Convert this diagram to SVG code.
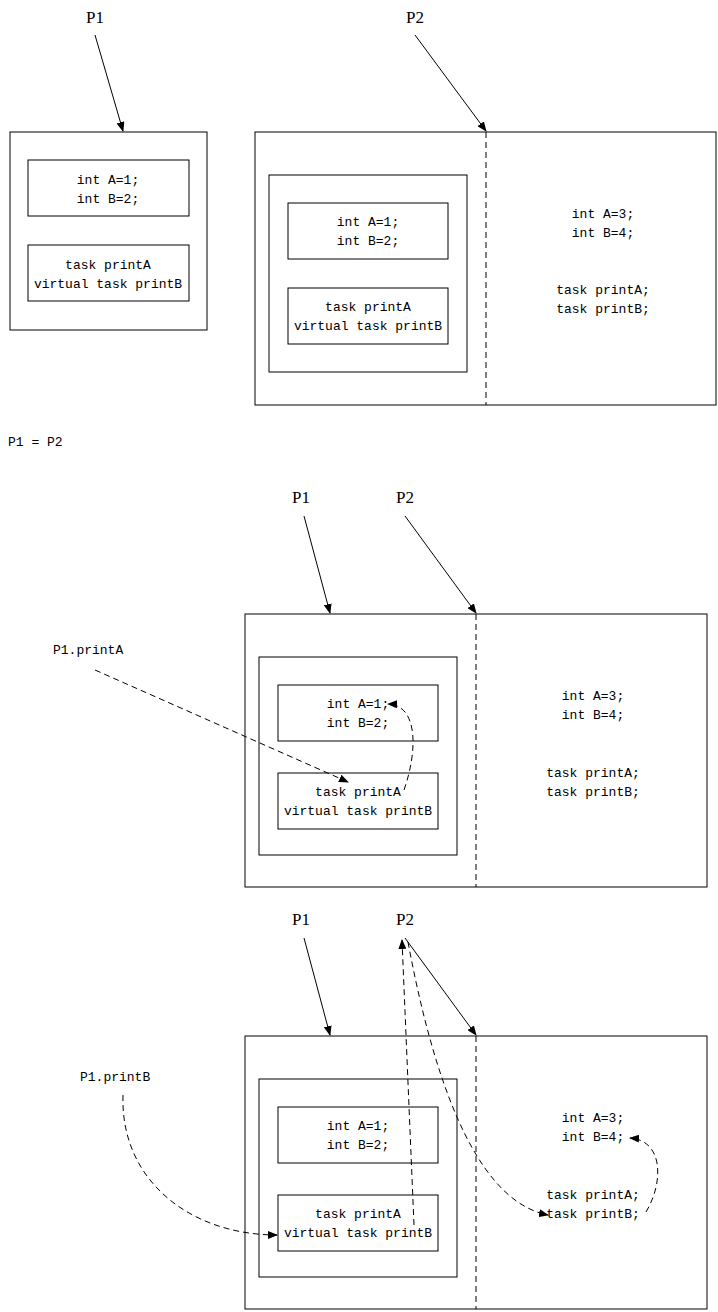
<svg xmlns="http://www.w3.org/2000/svg" width="718" height="1312" viewBox="0 0 718 1312">
<defs>
<marker id="ar" markerWidth="10" markerHeight="8" refX="9" refY="4" orient="auto" markerUnits="userSpaceOnUse"><path d="M0,0 L10,4 L0,8 z" fill="#000"/></marker>
<style>
.b{fill:#fff;stroke:#000;stroke-width:1}
.d{fill:none;stroke:#000;stroke-width:1;stroke-dasharray:6,4}
.l{fill:none;stroke:#000;stroke-width:1}
.t{font-family:"Liberation Mono",monospace;font-size:13px;fill:#000}
.c{text-anchor:middle}
.p{font-family:"Liberation Serif",serif;font-size:17px;fill:#000}
</style>
</defs>
<rect width="718" height="1312" fill="#fff"/>
<g id="p1a"><rect class="b" x="10" y="132" width="197" height="198"/>
<rect class="b" x="28" y="160" width="161" height="56"/><text class="t c" x="108" y="184">int A=1;</text><text class="t c" x="108" y="203">int B=2;</text>
<rect class="b" x="28" y="245" width="161" height="56"/><text class="t c" x="108" y="269">task printA</text><text class="t c" x="108" y="288">virtual task printB</text></g>
<g id="p2a"><rect class="b" x="255" y="132" width="461" height="273"/>
<rect class="b" x="269" y="175" width="198" height="197"/>
<rect class="b" x="288" y="203" width="160" height="56"/><text class="t c" x="368" y="226">int A=1;</text><text class="t c" x="368" y="245">int B=2;</text>
<rect class="b" x="288" y="288" width="160" height="56"/><text class="t c" x="368" y="311">task printA</text><text class="t c" x="368" y="330">virtual task printB</text>
<text class="t c" x="603" y="218">int A=3;</text><text class="t c" x="603" y="237">int B=4;</text><text class="t c" x="603" y="294">task printA;</text><text class="t c" x="603" y="313">task printB;</text></g>
<text class="p" x="95" y="23" text-anchor="middle">P1</text><text class="p" x="415" y="23" text-anchor="middle">P2</text>
<text class="t" x="8" y="446">P1 = P2</text>

<g id="p2b"><rect class="b" x="245" y="614" width="462" height="273"/>
<rect class="b" x="259" y="657" width="198" height="198"/>
<rect class="b" x="278" y="685" width="160" height="56"/><text class="t c" x="358" y="708">int A=1;</text><text class="t c" x="358" y="727">int B=2;</text>
<rect class="b" x="278" y="773" width="160" height="56"/><text class="t c" x="358" y="796">task printA</text><text class="t c" x="358" y="815">virtual task printB</text>
<text class="t c" x="593" y="700">int A=3;</text><text class="t c" x="593" y="719">int B=4;</text><text class="t c" x="593" y="777">task printA;</text><text class="t c" x="593" y="796">task printB;</text></g>
<text class="p" x="301" y="503" text-anchor="middle">P1</text><text class="p" x="405" y="503" text-anchor="middle">P2</text>
<text class="t" x="53" y="654">P1.printA</text>

<g id="p3b"><rect class="b" x="245" y="1036" width="462" height="273"/>
<rect class="b" x="259" y="1079" width="198" height="198"/>
<rect class="b" x="278" y="1107" width="160" height="56"/><text class="t c" x="358" y="1130">int A=1;</text><text class="t c" x="358" y="1149">int B=2;</text>
<rect class="b" x="278" y="1195" width="160" height="56"/><text class="t c" x="358" y="1218">task printA</text><text class="t c" x="358" y="1237">virtual task printB</text>
<text class="t c" x="593" y="1122">int A=3;</text><text class="t c" x="593" y="1141">int B=4;</text><text class="t c" x="593" y="1199">task printA;</text><text class="t c" x="593" y="1218">task printB;</text></g>
<text class="p" x="301" y="925" text-anchor="middle">P1</text><text class="p" x="405" y="925" text-anchor="middle">P2</text>
<text class="t" x="80" y="1081">P1.printB</text>

<g id="connectors">
<line class="l" x1="95" y1="35" x2="123" y2="131" marker-end="url(#ar)"/>
<line class="l" x1="415" y1="35" x2="486" y2="131" marker-end="url(#ar)"/>
<line class="d" x1="486" y1="132" x2="486" y2="405"/>
<line class="l" x1="304" y1="516" x2="330" y2="613" marker-end="url(#ar)"/>
<line class="l" x1="405" y1="516" x2="476" y2="613" marker-end="url(#ar)"/>
<line class="d" x1="476" y1="614" x2="476" y2="887"/>
<line class="d" x1="95" y1="670" x2="348" y2="782" marker-end="url(#ar)"/>
<path class="d" d="M404,790 C418,750 418,705 388,704" marker-end="url(#ar)"/>
<line class="l" x1="304" y1="938" x2="330" y2="1035" marker-end="url(#ar)"/>
<line class="l" x1="405" y1="938" x2="476" y2="1035" marker-end="url(#ar)"/>
<line class="d" x1="476" y1="1036" x2="476" y2="1309"/>
<path class="d" d="M123,1095 C120,1180 190,1235 277,1235" marker-end="url(#ar)"/>
<line class="d" x1="414" y1="1225" x2="402" y2="940" marker-end="url(#ar)"/>
<path class="d" d="M408,942 C430,1060 470,1200 548,1215" marker-end="url(#ar)"/>
<path class="d" d="M646,1212 C665,1180 662,1140 630,1138" marker-end="url(#ar)"/>
</g>
</svg>
